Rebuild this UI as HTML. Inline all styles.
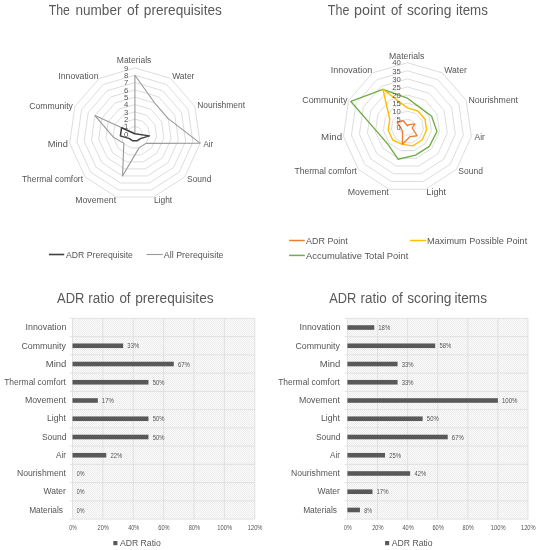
<!DOCTYPE html>
<html><head><meta charset="utf-8"><title>ADR charts</title>
<style>html,body{margin:0;padding:0;background:#fff;}svg{display:block}</style>
</head><body>
<svg width="537" height="550" viewBox="0 0 537 550" font-family='"Liberation Sans", sans-serif'>
<defs>
<pattern id="hatch" width="2" height="2" patternUnits="userSpaceOnUse">
<rect width="2" height="2" fill="#fcfcfc"/><rect width="1" height="1" fill="#ebebeb"/><rect x="1" y="1" width="1" height="1" fill="#ebebeb"/>
</pattern>
</defs>
<rect width="537" height="550" fill="#ffffff"/>
<text x="48.71" y="14.50" font-size="13.8" fill="#595959" textLength="21.19" lengthAdjust="spacingAndGlyphs">The</text>
<text x="75.45" y="14.50" font-size="13.8" fill="#595959" textLength="46.01" lengthAdjust="spacingAndGlyphs">number</text>
<text x="127.07" y="14.50" font-size="13.8" fill="#595959" textLength="11.59" lengthAdjust="spacingAndGlyphs">of</text>
<text x="143.85" y="14.50" font-size="13.8" fill="#595959" textLength="77.98" lengthAdjust="spacingAndGlyphs">prerequisites</text>
<polygon points="134.90,126.48 138.86,127.64 141.56,130.76 142.15,134.84 140.43,138.60 136.96,140.83 132.84,140.83 129.37,138.60 127.65,134.84 128.24,130.76 130.94,127.64" fill="none" stroke="#d9d9d9" stroke-width="0.9"/>
<polygon points="134.90,119.16 142.82,121.48 148.22,127.72 149.40,135.88 145.97,143.39 139.03,147.85 130.77,147.85 123.83,143.39 120.40,135.88 121.58,127.72 126.98,121.48" fill="none" stroke="#d9d9d9" stroke-width="0.9"/>
<polygon points="134.90,111.83 146.78,115.32 154.88,124.67 156.64,136.93 151.50,148.19 141.09,154.88 128.71,154.88 118.30,148.19 113.16,136.93 114.92,124.67 123.02,115.32" fill="none" stroke="#d9d9d9" stroke-width="0.9"/>
<polygon points="134.90,104.51 150.73,109.16 161.54,121.63 163.89,137.97 157.04,152.98 143.15,161.90 126.65,161.90 112.76,152.98 105.91,137.97 108.26,121.63 119.07,109.16" fill="none" stroke="#d9d9d9" stroke-width="0.9"/>
<polygon points="134.90,97.19 154.69,103.00 168.20,118.59 171.14,139.01 162.57,157.78 145.21,168.93 124.59,168.93 107.23,157.78 98.66,139.01 101.60,118.59 115.11,103.00" fill="none" stroke="#d9d9d9" stroke-width="0.9"/>
<polygon points="134.90,89.87 158.65,96.84 174.86,115.55 178.39,140.05 168.10,162.57 147.28,175.95 122.52,175.95 101.70,162.57 91.41,140.05 94.94,115.55 111.15,96.84" fill="none" stroke="#d9d9d9" stroke-width="0.9"/>
<polygon points="134.90,82.54 162.61,90.68 181.52,112.51 185.63,141.09 173.64,167.37 149.34,182.98 120.46,182.98 96.16,167.37 84.17,141.09 88.28,112.51 107.19,90.68" fill="none" stroke="#d9d9d9" stroke-width="0.9"/>
<polygon points="134.90,75.22 166.57,84.52 188.18,109.47 192.88,142.14 179.17,172.16 151.40,190.00 118.40,190.00 90.63,172.16 76.92,142.14 81.62,109.47 103.23,84.52" fill="none" stroke="#d9d9d9" stroke-width="0.9"/>
<polygon points="134.90,67.90 170.53,78.36 194.84,106.42 200.13,143.18 184.70,176.96 153.47,197.03 116.33,197.03 85.10,176.96 69.67,143.18 74.96,106.42 99.27,78.36" fill="none" stroke="#d9d9d9" stroke-width="0.9"/>
<polygon points="134.90,75.22 154.69,103.00 168.20,118.59 200.13,143.18 145.97,143.39 139.03,147.85 122.52,175.95 123.83,143.39 113.16,136.93 94.94,115.55 134.90,133.80" fill="none" stroke="#999999" stroke-width="1.1" stroke-linejoin="round"/>
<polygon points="134.90,133.80 134.90,133.80 134.90,133.80 149.40,135.88 140.43,138.60 136.96,140.83 132.84,140.83 129.37,138.60 120.40,135.88 121.58,127.72 134.90,133.80" fill="none" stroke="#404040" stroke-width="1.5" stroke-linejoin="round"/>
<text x="128.40" y="136.57" font-size="7.7" text-anchor="end" fill="#555555">0</text>
<text x="128.40" y="129.25" font-size="7.7" text-anchor="end" fill="#555555">1</text>
<text x="128.40" y="121.93" font-size="7.7" text-anchor="end" fill="#555555">2</text>
<text x="128.40" y="114.61" font-size="7.7" text-anchor="end" fill="#555555">3</text>
<text x="128.40" y="107.28" font-size="7.7" text-anchor="end" fill="#555555">4</text>
<text x="128.40" y="99.96" font-size="7.7" text-anchor="end" fill="#555555">5</text>
<text x="128.40" y="92.64" font-size="7.7" text-anchor="end" fill="#555555">6</text>
<text x="128.40" y="85.32" font-size="7.7" text-anchor="end" fill="#555555">7</text>
<text x="128.40" y="77.99" font-size="7.7" text-anchor="end" fill="#555555">8</text>
<text x="128.40" y="70.67" font-size="7.7" text-anchor="end" fill="#555555">9</text>
<text x="116.84" y="63.34" font-size="8.5" fill="#555555" textLength="34.43" lengthAdjust="spacingAndGlyphs">Materials</text>
<text x="172.20" y="78.74" font-size="8.5" fill="#555555" textLength="22.24" lengthAdjust="spacingAndGlyphs">Water</text>
<text x="197.24" y="108.34" font-size="8.5" fill="#555555" textLength="47.83" lengthAdjust="spacingAndGlyphs">Nourishment</text>
<text x="203.40" y="146.64" font-size="8.5" fill="#555555" textLength="9.64" lengthAdjust="spacingAndGlyphs">Air</text>
<text x="187.04" y="182.34" font-size="8.5" fill="#555555" textLength="24.34" lengthAdjust="spacingAndGlyphs">Sound</text>
<text x="153.94" y="203.14" font-size="8.5" fill="#555555" textLength="18.23" lengthAdjust="spacingAndGlyphs">Light</text>
<text x="75.22" y="203.14" font-size="8.5" fill="#555555" textLength="40.85" lengthAdjust="spacingAndGlyphs">Movement</text>
<text x="21.97" y="182.34" font-size="8.5" fill="#555555" textLength="61.00" lengthAdjust="spacingAndGlyphs">Thermal comfort</text>
<text x="47.77" y="146.64" font-size="8.5" fill="#555555" textLength="20.15" lengthAdjust="spacingAndGlyphs">Mind</text>
<text x="29.30" y="108.64" font-size="8.5" fill="#555555" textLength="43.60" lengthAdjust="spacingAndGlyphs">Community</text>
<text x="58.32" y="79.04" font-size="8.5" fill="#555555" textLength="40.17" lengthAdjust="spacingAndGlyphs">Innovation</text>
<line x1="48.9" y1="254.5" x2="64.2" y2="254.5" stroke="#404040" stroke-width="1.6"/>
<text x="66.10" y="257.70" font-size="8.7" fill="#555555" textLength="66.85" lengthAdjust="spacingAndGlyphs">ADR Prerequisite</text>
<line x1="146.5" y1="254.5" x2="162.7" y2="254.5" stroke="#999999" stroke-width="1.1"/>
<text x="163.80" y="257.70" font-size="8.7" fill="#555555" textLength="59.76" lengthAdjust="spacingAndGlyphs">All Prerequisite</text>
<text x="327.80" y="14.50" font-size="13.8" fill="#595959" textLength="21.60" lengthAdjust="spacingAndGlyphs">The</text>
<text x="354.11" y="14.50" font-size="13.8" fill="#595959" textLength="31.05" lengthAdjust="spacingAndGlyphs">point</text>
<text x="390.89" y="14.50" font-size="13.8" fill="#595959" textLength="10.97" lengthAdjust="spacingAndGlyphs">of</text>
<text x="406.88" y="14.50" font-size="13.8" fill="#595959" textLength="44.59" lengthAdjust="spacingAndGlyphs">scoring</text>
<text x="455.96" y="14.50" font-size="13.8" fill="#595959" textLength="31.95" lengthAdjust="spacingAndGlyphs">items</text>
<polygon points="407.40,119.22 411.77,120.51 414.75,123.95 415.39,128.45 413.50,132.59 409.67,135.05 405.13,135.05 401.30,132.59 399.41,128.45 400.05,123.95 403.03,120.51" fill="none" stroke="#d9d9d9" stroke-width="0.9"/>
<polygon points="407.40,111.15 416.13,113.71 422.09,120.59 423.39,129.60 419.61,137.88 411.95,142.80 402.85,142.80 395.19,137.88 391.41,129.60 392.71,120.59 398.67,113.71" fill="none" stroke="#d9d9d9" stroke-width="0.9"/>
<polygon points="407.40,103.08 420.50,106.92 429.44,117.24 431.38,130.75 425.71,143.16 414.22,150.54 400.58,150.54 389.09,143.16 383.42,130.75 385.36,117.24 394.30,106.92" fill="none" stroke="#d9d9d9" stroke-width="0.9"/>
<polygon points="407.40,95.00 424.86,100.13 436.78,113.88 439.37,131.90 431.81,148.45 416.50,158.29 398.30,158.29 382.99,148.45 375.43,131.90 378.02,113.88 389.94,100.13" fill="none" stroke="#d9d9d9" stroke-width="0.9"/>
<polygon points="407.40,86.92 429.23,93.33 444.13,110.53 447.36,133.05 437.91,153.74 418.77,166.04 396.03,166.04 376.89,153.74 367.44,133.05 370.67,110.53 385.57,93.33" fill="none" stroke="#d9d9d9" stroke-width="0.9"/>
<polygon points="407.40,78.85 433.59,86.54 451.47,107.17 455.36,134.20 444.02,159.03 421.05,173.79 393.75,173.79 370.78,159.03 359.44,134.20 363.33,107.17 381.21,86.54" fill="none" stroke="#d9d9d9" stroke-width="0.9"/>
<polygon points="407.40,70.78 437.96,79.75 458.82,103.82 463.35,135.34 450.12,164.32 423.32,181.54 391.48,181.54 364.68,164.32 351.45,135.34 355.98,103.82 376.84,79.75" fill="none" stroke="#d9d9d9" stroke-width="0.9"/>
<polygon points="407.40,62.70 442.33,72.96 466.16,100.46 471.34,136.49 456.22,169.60 425.60,189.28 389.20,189.28 358.58,169.60 343.46,136.49 348.64,100.46 372.47,72.96" fill="none" stroke="#d9d9d9" stroke-width="0.9"/>
<polygon points="407.40,98.23 420.06,107.60 431.64,116.23 436.97,131.55 429.37,146.34 415.59,155.19 398.03,159.22 387.87,144.22 377.03,131.67 350.84,101.47 382.95,89.26" fill="none" stroke="#70AD47" stroke-width="1.35" stroke-linejoin="round"/>
<polygon points="407.40,107.92 417.88,111.00 425.03,119.25 426.58,130.06 422.05,139.99 412.86,145.89 402.40,144.35 392.75,139.99 388.22,130.06 389.77,119.25 382.95,89.26" fill="none" stroke="#FFC000" stroke-width="1.45" stroke-linejoin="round"/>
<polygon points="407.40,125.69 409.15,124.58 414.75,123.95 412.20,127.99 417.16,135.76 410.13,136.60 402.40,144.35 402.52,131.53 401.01,128.22 397.12,122.60 403.03,120.51" fill="none" stroke="#ED7D31" stroke-width="1.35" stroke-linejoin="round"/>
<text x="400.90" y="130.07" font-size="7.7" text-anchor="end" fill="#555555">0</text>
<text x="400.90" y="122.00" font-size="7.7" text-anchor="end" fill="#555555">5</text>
<text x="400.90" y="113.92" font-size="7.7" text-anchor="end" fill="#555555">10</text>
<text x="400.90" y="105.85" font-size="7.7" text-anchor="end" fill="#555555">15</text>
<text x="400.90" y="97.77" font-size="7.7" text-anchor="end" fill="#555555">20</text>
<text x="400.90" y="89.70" font-size="7.7" text-anchor="end" fill="#555555">25</text>
<text x="400.90" y="81.62" font-size="7.7" text-anchor="end" fill="#555555">30</text>
<text x="400.90" y="73.55" font-size="7.7" text-anchor="end" fill="#555555">35</text>
<text x="400.90" y="65.47" font-size="7.7" text-anchor="end" fill="#555555">40</text>
<text x="389.12" y="58.64" font-size="8.5" fill="#555555" textLength="35.25" lengthAdjust="spacingAndGlyphs">Materials</text>
<text x="444.20" y="73.44" font-size="8.5" fill="#555555" textLength="22.74" lengthAdjust="spacingAndGlyphs">Water</text>
<text x="468.42" y="102.54" font-size="8.5" fill="#555555" textLength="49.65" lengthAdjust="spacingAndGlyphs">Nourishment</text>
<text x="474.60" y="139.74" font-size="8.5" fill="#555555" textLength="10.24" lengthAdjust="spacingAndGlyphs">Air</text>
<text x="458.33" y="174.24" font-size="8.5" fill="#555555" textLength="24.54" lengthAdjust="spacingAndGlyphs">Sound</text>
<text x="426.39" y="194.84" font-size="8.5" fill="#555555" textLength="19.57" lengthAdjust="spacingAndGlyphs">Light</text>
<text x="347.71" y="194.84" font-size="8.5" fill="#555555" textLength="41.06" lengthAdjust="spacingAndGlyphs">Movement</text>
<text x="294.47" y="174.24" font-size="8.5" fill="#555555" textLength="62.40" lengthAdjust="spacingAndGlyphs">Thermal comfort</text>
<text x="321.04" y="139.74" font-size="8.5" fill="#555555" textLength="21.11" lengthAdjust="spacingAndGlyphs">Mind</text>
<text x="302.18" y="102.54" font-size="8.5" fill="#555555" textLength="45.22" lengthAdjust="spacingAndGlyphs">Community</text>
<text x="330.80" y="73.44" font-size="8.5" fill="#555555" textLength="41.51" lengthAdjust="spacingAndGlyphs">Innovation</text>
<line x1="289.1" y1="240.5" x2="304.8" y2="240.5" stroke="#ED7D31" stroke-width="1.5"/>
<text x="306.10" y="244.10" font-size="8.7" fill="#555555" textLength="41.67" lengthAdjust="spacingAndGlyphs">ADR Point</text>
<line x1="410" y1="240.5" x2="426.2" y2="240.5" stroke="#FFC000" stroke-width="1.5"/>
<text x="427.09" y="244.10" font-size="8.7" fill="#555555" textLength="100.18" lengthAdjust="spacingAndGlyphs">Maximum Possible Point</text>
<line x1="289.1" y1="255.4" x2="304.8" y2="255.4" stroke="#70AD47" stroke-width="1.5"/>
<text x="306.10" y="258.80" font-size="8.7" fill="#555555" textLength="102.17" lengthAdjust="spacingAndGlyphs">Accumulative Total Point</text>
<text x="57.10" y="303.10" font-size="13.8" fill="#595959" textLength="27.25" lengthAdjust="spacingAndGlyphs">ADR</text>
<text x="88.26" y="303.10" font-size="13.8" fill="#595959" textLength="26.19" lengthAdjust="spacingAndGlyphs">ratio</text>
<text x="119.38" y="303.10" font-size="13.8" fill="#595959" textLength="11.17" lengthAdjust="spacingAndGlyphs">of</text>
<text x="135.14" y="303.10" font-size="13.8" fill="#595959" textLength="78.49" lengthAdjust="spacingAndGlyphs">prerequisites</text>
<rect x="72.5" y="318.4" width="182.30" height="200.70" fill="url(#hatch)"/>
<line x1="69.70" y1="318.40" x2="254.8" y2="318.40" stroke="#dcdcdc" stroke-width="0.8"/>
<line x1="69.70" y1="336.65" x2="254.8" y2="336.65" stroke="#dcdcdc" stroke-width="0.8"/>
<line x1="69.70" y1="354.89" x2="254.8" y2="354.89" stroke="#dcdcdc" stroke-width="0.8"/>
<line x1="69.70" y1="373.14" x2="254.8" y2="373.14" stroke="#dcdcdc" stroke-width="0.8"/>
<line x1="69.70" y1="391.38" x2="254.8" y2="391.38" stroke="#dcdcdc" stroke-width="0.8"/>
<line x1="69.70" y1="409.63" x2="254.8" y2="409.63" stroke="#dcdcdc" stroke-width="0.8"/>
<line x1="69.70" y1="427.87" x2="254.8" y2="427.87" stroke="#dcdcdc" stroke-width="0.8"/>
<line x1="69.70" y1="446.12" x2="254.8" y2="446.12" stroke="#dcdcdc" stroke-width="0.8"/>
<line x1="69.70" y1="464.36" x2="254.8" y2="464.36" stroke="#dcdcdc" stroke-width="0.8"/>
<line x1="69.70" y1="482.61" x2="254.8" y2="482.61" stroke="#dcdcdc" stroke-width="0.8"/>
<line x1="69.70" y1="500.85" x2="254.8" y2="500.85" stroke="#dcdcdc" stroke-width="0.8"/>
<line x1="69.70" y1="519.10" x2="254.8" y2="519.10" stroke="#dcdcdc" stroke-width="0.8"/>
<line x1="72.50" y1="318.4" x2="72.50" y2="519.1" stroke="#dcdcdc" stroke-width="0.8"/>
<text x="69.14" y="529.60" font-size="7.5" fill="#555555" textLength="7.52" lengthAdjust="spacingAndGlyphs">0%</text>
<line x1="102.88" y1="318.4" x2="102.88" y2="519.1" stroke="#dcdcdc" stroke-width="0.8"/>
<text x="97.57" y="529.60" font-size="7.5" fill="#555555" textLength="11.33" lengthAdjust="spacingAndGlyphs">20%</text>
<line x1="133.27" y1="318.4" x2="133.27" y2="519.1" stroke="#dcdcdc" stroke-width="0.8"/>
<text x="128.13" y="529.60" font-size="7.5" fill="#555555" textLength="11.15" lengthAdjust="spacingAndGlyphs">40%</text>
<line x1="163.65" y1="318.4" x2="163.65" y2="519.1" stroke="#dcdcdc" stroke-width="0.8"/>
<text x="158.33" y="529.60" font-size="7.5" fill="#555555" textLength="11.33" lengthAdjust="spacingAndGlyphs">60%</text>
<line x1="194.03" y1="318.4" x2="194.03" y2="519.1" stroke="#dcdcdc" stroke-width="0.8"/>
<text x="188.81" y="529.60" font-size="7.5" fill="#555555" textLength="11.24" lengthAdjust="spacingAndGlyphs">80%</text>
<line x1="224.42" y1="318.4" x2="224.42" y2="519.1" stroke="#dcdcdc" stroke-width="0.8"/>
<text x="217.36" y="529.60" font-size="7.5" fill="#555555" textLength="14.73" lengthAdjust="spacingAndGlyphs">100%</text>
<line x1="254.80" y1="318.4" x2="254.80" y2="519.1" stroke="#dcdcdc" stroke-width="0.8"/>
<text x="247.74" y="529.60" font-size="7.5" fill="#555555" textLength="14.73" lengthAdjust="spacingAndGlyphs">120%</text>
<text x="25.51" y="330.27" font-size="8.5" fill="#555555" textLength="40.89" lengthAdjust="spacingAndGlyphs">Innovation</text>
<text x="21.49" y="348.51" font-size="8.5" fill="#555555" textLength="44.41" lengthAdjust="spacingAndGlyphs">Community</text>
<rect x="72.5" y="343.47" width="50.64" height="4.6" fill="#595959"/>
<text x="127.36" y="348.47" font-size="7.5" fill="#555555" textLength="11.76" lengthAdjust="spacingAndGlyphs">33%</text>
<text x="45.75" y="366.76" font-size="8.5" fill="#555555" textLength="20.68" lengthAdjust="spacingAndGlyphs">Mind</text>
<rect x="72.5" y="361.71" width="101.28" height="4.6" fill="#595959"/>
<text x="177.90" y="366.71" font-size="7.5" fill="#555555" textLength="11.85" lengthAdjust="spacingAndGlyphs">67%</text>
<text x="4.17" y="385.00" font-size="8.5" fill="#555555" textLength="61.70" lengthAdjust="spacingAndGlyphs">Thermal comfort</text>
<rect x="72.5" y="379.96" width="75.96" height="4.6" fill="#595959"/>
<text x="152.67" y="384.96" font-size="7.5" fill="#555555" textLength="11.76" lengthAdjust="spacingAndGlyphs">50%</text>
<text x="24.91" y="403.25" font-size="8.5" fill="#555555" textLength="40.96" lengthAdjust="spacingAndGlyphs">Movement</text>
<rect x="72.5" y="398.20" width="25.32" height="4.6" fill="#595959"/>
<text x="101.85" y="403.20" font-size="7.5" fill="#555555" textLength="11.95" lengthAdjust="spacingAndGlyphs">17%</text>
<text x="47.02" y="421.49" font-size="8.5" fill="#555555" textLength="18.85" lengthAdjust="spacingAndGlyphs">Light</text>
<rect x="72.5" y="416.45" width="75.96" height="4.6" fill="#595959"/>
<text x="152.67" y="421.45" font-size="7.5" fill="#555555" textLength="11.76" lengthAdjust="spacingAndGlyphs">50%</text>
<text x="41.94" y="439.74" font-size="8.5" fill="#555555" textLength="24.44" lengthAdjust="spacingAndGlyphs">Sound</text>
<rect x="72.5" y="434.70" width="75.96" height="4.6" fill="#595959"/>
<text x="152.67" y="439.70" font-size="7.5" fill="#555555" textLength="11.76" lengthAdjust="spacingAndGlyphs">50%</text>
<text x="56.00" y="457.98" font-size="8.5" fill="#555555" textLength="9.94" lengthAdjust="spacingAndGlyphs">Air</text>
<rect x="72.5" y="452.94" width="33.76" height="4.6" fill="#595959"/>
<text x="110.38" y="457.94" font-size="7.5" fill="#555555" textLength="11.85" lengthAdjust="spacingAndGlyphs">22%</text>
<text x="17.03" y="476.23" font-size="8.5" fill="#555555" textLength="48.84" lengthAdjust="spacingAndGlyphs">Nourishment</text>
<text x="76.73" y="476.19" font-size="7.5" fill="#555555" textLength="7.73" lengthAdjust="spacingAndGlyphs">0%</text>
<text x="43.50" y="494.47" font-size="8.5" fill="#555555" textLength="22.44" lengthAdjust="spacingAndGlyphs">Water</text>
<text x="76.73" y="494.43" font-size="7.5" fill="#555555" textLength="7.73" lengthAdjust="spacingAndGlyphs">0%</text>
<text x="29.15" y="512.72" font-size="8.5" fill="#555555" textLength="33.91" lengthAdjust="spacingAndGlyphs">Materials</text>
<text x="76.73" y="512.68" font-size="7.5" fill="#555555" textLength="7.73" lengthAdjust="spacingAndGlyphs">0%</text>
<rect x="113.3" y="541" width="4.1" height="4.2" fill="#595959"/>
<text x="120.00" y="546.10" font-size="8.7" fill="#555555" textLength="40.75" lengthAdjust="spacingAndGlyphs">ADR Ratio</text>
<text x="329.30" y="303.10" font-size="13.8" fill="#595959" textLength="27.04" lengthAdjust="spacingAndGlyphs">ADR</text>
<text x="360.46" y="303.10" font-size="13.8" fill="#595959" textLength="26.19" lengthAdjust="spacingAndGlyphs">ratio</text>
<text x="391.68" y="303.10" font-size="13.8" fill="#595959" textLength="11.17" lengthAdjust="spacingAndGlyphs">of</text>
<text x="407.19" y="303.10" font-size="13.8" fill="#595959" textLength="44.29" lengthAdjust="spacingAndGlyphs">scoring</text>
<text x="454.45" y="303.10" font-size="13.8" fill="#595959" textLength="32.58" lengthAdjust="spacingAndGlyphs">items</text>
<rect x="347.4" y="318.4" width="180.60" height="200.70" fill="url(#hatch)"/>
<line x1="344.60" y1="318.40" x2="528.0" y2="318.40" stroke="#dcdcdc" stroke-width="0.8"/>
<line x1="344.60" y1="336.65" x2="528.0" y2="336.65" stroke="#dcdcdc" stroke-width="0.8"/>
<line x1="344.60" y1="354.89" x2="528.0" y2="354.89" stroke="#dcdcdc" stroke-width="0.8"/>
<line x1="344.60" y1="373.14" x2="528.0" y2="373.14" stroke="#dcdcdc" stroke-width="0.8"/>
<line x1="344.60" y1="391.38" x2="528.0" y2="391.38" stroke="#dcdcdc" stroke-width="0.8"/>
<line x1="344.60" y1="409.63" x2="528.0" y2="409.63" stroke="#dcdcdc" stroke-width="0.8"/>
<line x1="344.60" y1="427.87" x2="528.0" y2="427.87" stroke="#dcdcdc" stroke-width="0.8"/>
<line x1="344.60" y1="446.12" x2="528.0" y2="446.12" stroke="#dcdcdc" stroke-width="0.8"/>
<line x1="344.60" y1="464.36" x2="528.0" y2="464.36" stroke="#dcdcdc" stroke-width="0.8"/>
<line x1="344.60" y1="482.61" x2="528.0" y2="482.61" stroke="#dcdcdc" stroke-width="0.8"/>
<line x1="344.60" y1="500.85" x2="528.0" y2="500.85" stroke="#dcdcdc" stroke-width="0.8"/>
<line x1="344.60" y1="519.10" x2="528.0" y2="519.10" stroke="#dcdcdc" stroke-width="0.8"/>
<line x1="347.40" y1="318.4" x2="347.40" y2="519.1" stroke="#dcdcdc" stroke-width="0.8"/>
<text x="344.04" y="529.60" font-size="7.5" fill="#555555" textLength="7.52" lengthAdjust="spacingAndGlyphs">0%</text>
<line x1="377.50" y1="318.4" x2="377.50" y2="519.1" stroke="#dcdcdc" stroke-width="0.8"/>
<text x="372.18" y="529.60" font-size="7.5" fill="#555555" textLength="11.33" lengthAdjust="spacingAndGlyphs">20%</text>
<line x1="407.60" y1="318.4" x2="407.60" y2="519.1" stroke="#dcdcdc" stroke-width="0.8"/>
<text x="402.46" y="529.60" font-size="7.5" fill="#555555" textLength="11.15" lengthAdjust="spacingAndGlyphs">40%</text>
<line x1="437.70" y1="318.4" x2="437.70" y2="519.1" stroke="#dcdcdc" stroke-width="0.8"/>
<text x="432.38" y="529.60" font-size="7.5" fill="#555555" textLength="11.33" lengthAdjust="spacingAndGlyphs">60%</text>
<line x1="467.80" y1="318.4" x2="467.80" y2="519.1" stroke="#dcdcdc" stroke-width="0.8"/>
<text x="462.57" y="529.60" font-size="7.5" fill="#555555" textLength="11.24" lengthAdjust="spacingAndGlyphs">80%</text>
<line x1="497.90" y1="318.4" x2="497.90" y2="519.1" stroke="#dcdcdc" stroke-width="0.8"/>
<text x="490.84" y="529.60" font-size="7.5" fill="#555555" textLength="14.73" lengthAdjust="spacingAndGlyphs">100%</text>
<line x1="528.00" y1="318.4" x2="528.00" y2="519.1" stroke="#dcdcdc" stroke-width="0.8"/>
<text x="520.94" y="529.60" font-size="7.5" fill="#555555" textLength="14.73" lengthAdjust="spacingAndGlyphs">120%</text>
<text x="299.51" y="330.27" font-size="8.5" fill="#555555" textLength="40.89" lengthAdjust="spacingAndGlyphs">Innovation</text>
<rect x="347.4" y="325.22" width="26.88" height="4.6" fill="#595959"/>
<text x="378.30" y="330.22" font-size="7.5" fill="#555555" textLength="11.95" lengthAdjust="spacingAndGlyphs">18%</text>
<text x="295.49" y="348.51" font-size="8.5" fill="#555555" textLength="44.41" lengthAdjust="spacingAndGlyphs">Community</text>
<rect x="347.4" y="343.47" width="87.79" height="4.6" fill="#595959"/>
<text x="439.41" y="348.47" font-size="7.5" fill="#555555" textLength="11.76" lengthAdjust="spacingAndGlyphs">58%</text>
<text x="319.75" y="366.76" font-size="8.5" fill="#555555" textLength="20.68" lengthAdjust="spacingAndGlyphs">Mind</text>
<rect x="347.4" y="361.71" width="50.17" height="4.6" fill="#595959"/>
<text x="401.78" y="366.71" font-size="7.5" fill="#555555" textLength="11.76" lengthAdjust="spacingAndGlyphs">33%</text>
<text x="278.17" y="385.00" font-size="8.5" fill="#555555" textLength="61.70" lengthAdjust="spacingAndGlyphs">Thermal comfort</text>
<rect x="347.4" y="379.96" width="50.17" height="4.6" fill="#595959"/>
<text x="401.78" y="384.96" font-size="7.5" fill="#555555" textLength="11.76" lengthAdjust="spacingAndGlyphs">33%</text>
<text x="298.91" y="403.25" font-size="8.5" fill="#555555" textLength="40.96" lengthAdjust="spacingAndGlyphs">Movement</text>
<rect x="347.4" y="398.20" width="150.50" height="4.6" fill="#595959"/>
<text x="501.92" y="403.20" font-size="7.5" fill="#555555" textLength="15.56" lengthAdjust="spacingAndGlyphs">100%</text>
<text x="321.02" y="421.49" font-size="8.5" fill="#555555" textLength="18.85" lengthAdjust="spacingAndGlyphs">Light</text>
<rect x="347.4" y="416.45" width="75.25" height="4.6" fill="#595959"/>
<text x="426.87" y="421.45" font-size="7.5" fill="#555555" textLength="11.76" lengthAdjust="spacingAndGlyphs">50%</text>
<text x="315.94" y="439.74" font-size="8.5" fill="#555555" textLength="24.44" lengthAdjust="spacingAndGlyphs">Sound</text>
<rect x="347.4" y="434.70" width="100.33" height="4.6" fill="#595959"/>
<text x="451.86" y="439.70" font-size="7.5" fill="#555555" textLength="11.85" lengthAdjust="spacingAndGlyphs">67%</text>
<text x="330.00" y="457.98" font-size="8.5" fill="#555555" textLength="9.94" lengthAdjust="spacingAndGlyphs">Air</text>
<rect x="347.4" y="452.94" width="37.63" height="4.6" fill="#595959"/>
<text x="389.15" y="457.94" font-size="7.5" fill="#555555" textLength="11.85" lengthAdjust="spacingAndGlyphs">25%</text>
<text x="291.03" y="476.23" font-size="8.5" fill="#555555" textLength="48.84" lengthAdjust="spacingAndGlyphs">Nourishment</text>
<rect x="347.4" y="471.19" width="62.71" height="4.6" fill="#595959"/>
<text x="414.42" y="476.19" font-size="7.5" fill="#555555" textLength="11.66" lengthAdjust="spacingAndGlyphs">42%</text>
<text x="317.50" y="494.47" font-size="8.5" fill="#555555" textLength="22.44" lengthAdjust="spacingAndGlyphs">Water</text>
<rect x="347.4" y="489.43" width="25.08" height="4.6" fill="#595959"/>
<text x="376.51" y="494.43" font-size="7.5" fill="#555555" textLength="11.95" lengthAdjust="spacingAndGlyphs">17%</text>
<text x="303.15" y="512.72" font-size="8.5" fill="#555555" textLength="33.91" lengthAdjust="spacingAndGlyphs">Materials</text>
<rect x="347.4" y="507.68" width="12.54" height="4.6" fill="#595959"/>
<text x="364.17" y="512.68" font-size="7.5" fill="#555555" textLength="7.73" lengthAdjust="spacingAndGlyphs">8%</text>
<rect x="385.1" y="541" width="4.1" height="4.2" fill="#595959"/>
<text x="391.80" y="546.10" font-size="8.7" fill="#555555" textLength="40.75" lengthAdjust="spacingAndGlyphs">ADR Ratio</text>
</svg>
</body></html>
